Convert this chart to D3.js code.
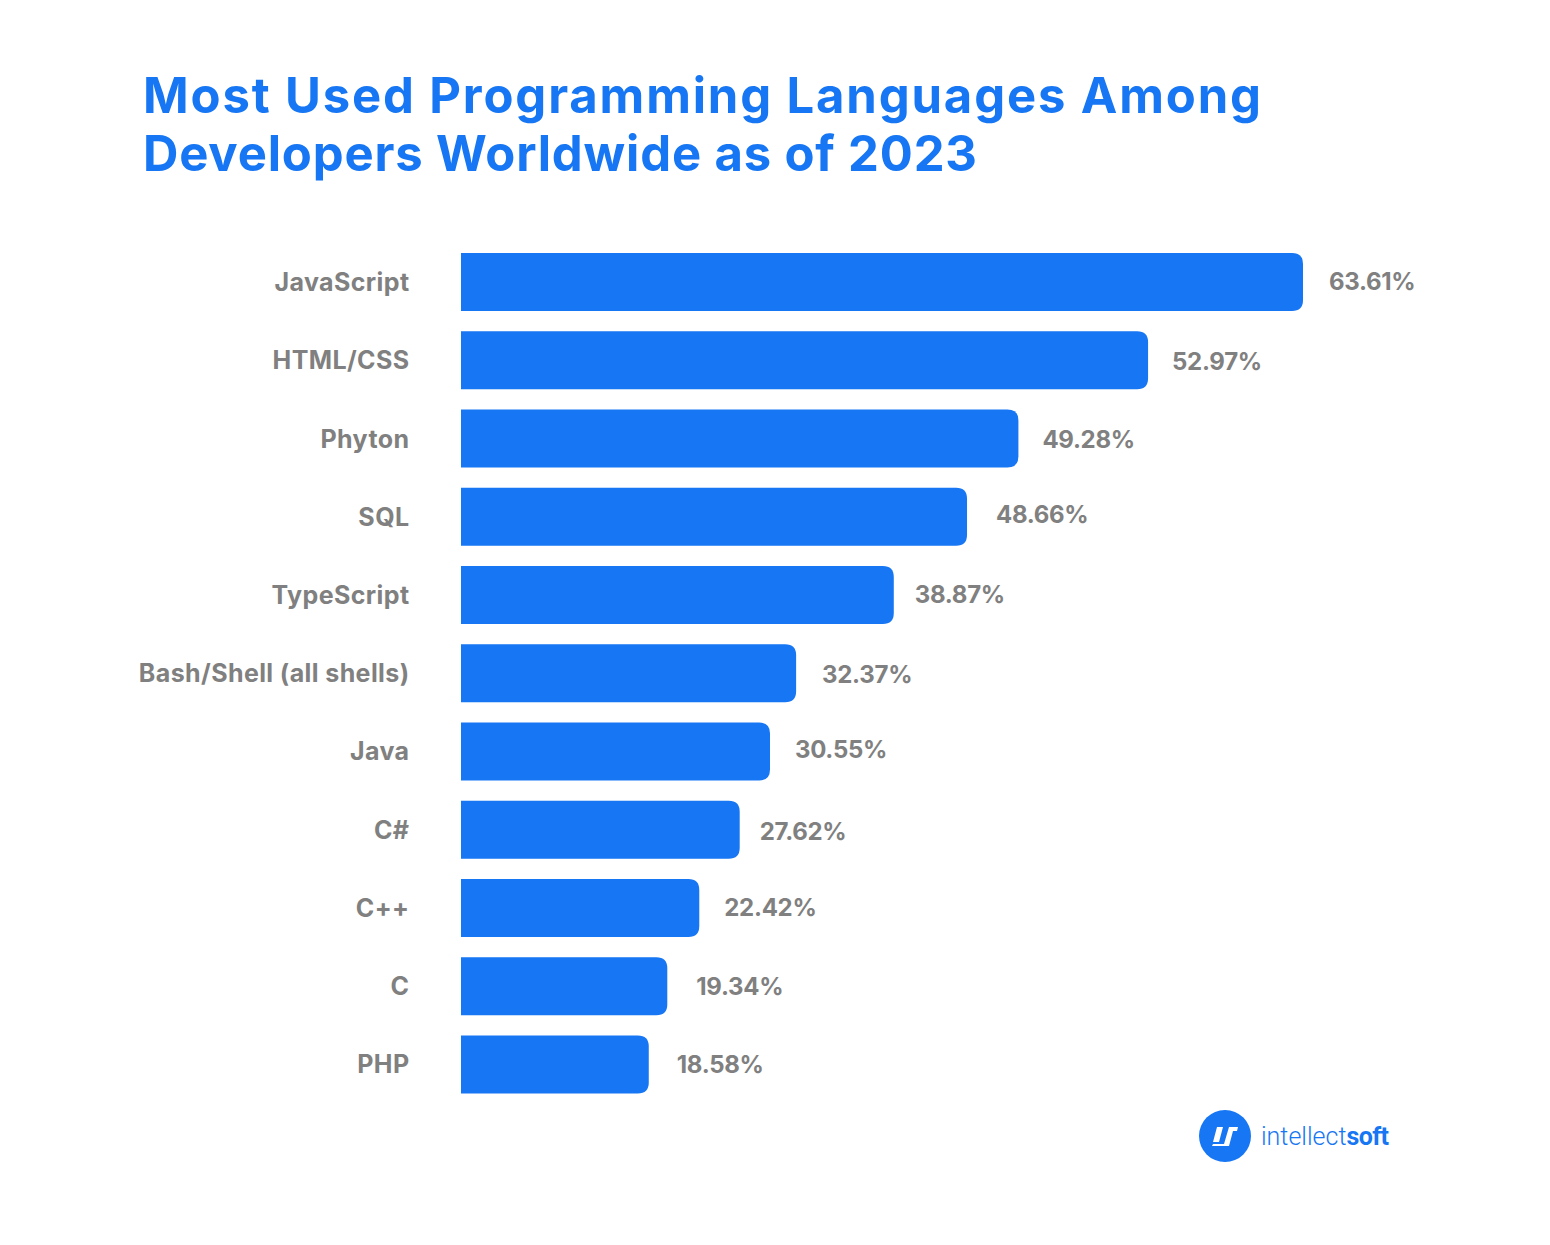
<!DOCTYPE html>
<html>
<head>
<meta charset="utf-8">
<script src="https://cdn.jsdelivr.net/npm/d3@7"></script>
<style>
  body { margin: 0; background: #fff; }
  text { font-family: Inter, sans-serif; font-weight: 700; }
</style>
</head>
<body>
<script>
var categories = ["JavaScript", "HTML/CSS", "Phyton", "SQL", "TypeScript", "Bash/Shell (all shells)", "Java", "C#", "C++", "C", "PHP"];
var values = [63.61, 52.97, 49.28, 48.66, 38.87, 32.37, 30.55, 27.62, 22.42, 19.34, 18.58];
// the bars in the picture are not to scale with their labels,
// so their lengths are read separately, as % of the longest bar
var barLengths = [100, 81.6, 66.2, 60.1, 51.4, 39.8, 36.7, 33.1, 28.3, 24.5, 22.3];
var titleLines = ["Most Used Programming Languages Among", "Developers Worldwide as of 2023"];

// title font is narrower than the original, so stretch each line to its width
var titleWidths = [1118, 834];
// value labels sit unevenly in the original
var labelGaps = [26, 24, 24, 29, 21, 26, 25, 20, 25, 29, 28];
var labelNudges = [0, 1, 1, -2, 0, 1, -2, 2, 0, 0, 0];

var blue = "#1676f3";
var grey = "#808080";

var svg = d3.select("body").append("svg")
    .attr("width", 1550)
    .attr("height", 1245);

// title
svg.selectAll(".title")
    .data(titleLines)
    .enter()
    .append("text")
    .attr("class", "title")
    .text(function(d) { return d; })
    .attr("x", 143)
    .attr("y", function(d, i) { return 113 + i * 58; })
    .attr("textLength", function(d, i) { return titleWidths[i]; })
    .attr("lengthAdjust", "spacing")
    .style("font-size", "49px")
    .style("fill", blue);

var x = d3.scaleLinear().domain([0, 100]).range([461, 1303]);
var y = d3.scaleBand().domain(categories).range([253, 1093.5]).paddingInner(0.2585);

// category labels
var yAxis = svg.append("g")
    .attr("transform", "translate(409.5,1)")
    .call(d3.axisLeft(y).tickSize(0).tickPadding(0));
yAxis.select(".domain").remove();
yAxis.selectAll("text")
    .style("font-family", "Inter, sans-serif")
    .style("font-size", "25px")
    .style("letter-spacing", "0.4px")
    .style("fill", grey);

// bars, square on the left and rounded on the right
function barPath(d, i) {
  var x0 = x(0), x1 = x(barLengths[i]), t = y(d), b = t + y.bandwidth(), r = 11;
  return "M" + x0 + "," + t + "H" + (x1 - r) + "Q" + x1 + "," + t + " " + x1 + "," + (t + r) +
    "V" + (b - r) + "Q" + x1 + "," + b + " " + (x1 - r) + "," + b + "H" + x0 + "Z";
}
svg.selectAll(".bar")
    .data(categories)
    .enter()
    .append("path")
    .attr("class", "bar")
    .attr("d", barPath)
    .style("fill", blue);

// value labels
svg.selectAll(".value")
    .data(values)
    .enter()
    .append("text")
    .attr("class", "value")
    .text(function(d) { return d.toFixed(2) + "%"; })
    .attr("x", function(d, i) { return x(barLengths[i]) + labelGaps[i]; })
    .attr("y", function(d, i) { return y(categories[i]) + y.bandwidth() / 2 + labelNudges[i]; })
    .attr("dy", "0.35em")
    .style("font-size", "24px")
    .style("letter-spacing", "-0.3px")
    .style("fill", grey);

// logo
var logo = svg.append("g");
logo.append("circle")
    .attr("cx", 1225)
    .attr("cy", 1136)
    .attr("r", 26)
    .style("fill", blue);
logo.append("path")
    .attr("d", "M1217,1127H1223L1219,1142H1213Z M1229,1127H1238L1237,1131H1233L1229,1146H1212L1213,1144H1224Z")
    .style("fill", "#fff");
var brand = logo.append("text")
    .attr("x", 1261)
    .attr("y", 1145)
    .style("font-family", "Roboto, sans-serif")
    .style("font-size", "25px")
    .style("fill", blue);
brand.append("tspan").text("intellect").style("font-weight", 300);
brand.append("tspan").text("soft").style("font-weight", 700).style("letter-spacing", "-0.6px");
</script>
</body>
</html>
